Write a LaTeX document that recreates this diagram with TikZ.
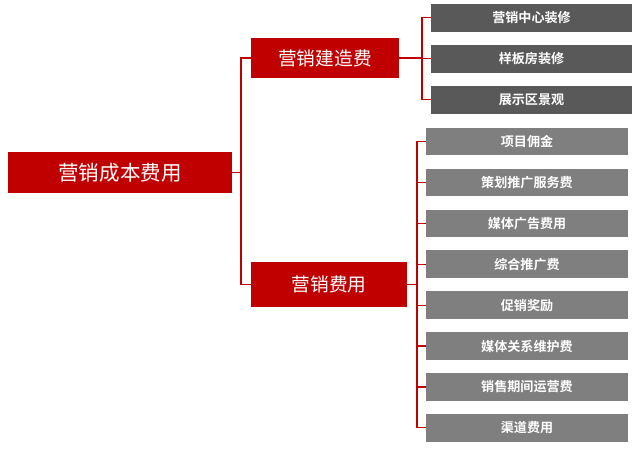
\documentclass[tikz,border=0pt]{standalone}
\usepackage{fontspec}
\setmainfont{Noto Sans CJK SC}[BoldFont={Noto Sans CJK SC Bold}]
\usetikzlibrary{positioning}
\definecolor{costred}{HTML}{C00000}
\definecolor{darkitem}{HTML}{595959}
\definecolor{greyitem}{HTML}{7F7F7F}
\def\thickness{thick}
\tikzset{
redbox/.style 2 args={fill=costred, text=white, inner sep=0pt,
	minimum width=#1, minimum height=#2},
itembox/.style={fill=#1, text=white, inner sep=0pt,
	font=\fontsize{9.3}{11}\selectfont\bfseries},
darkbox/.style={itembox=darkitem, minimum width=5.025cm, minimum height=0.7cm},
greybox/.style={itembox=greyitem, minimum width=5.05cm, minimum height=0.69cm},
link/.style={draw=costred, \thickness},
}

\begin{document}
\begin{tikzpicture}[x=0.025cm, y=-0.025cm, node distance=1.0225cm]
\useasboundingbox (0,0) rectangle (640,449);
%Place the nodes
\node[redbox={5.6cm}{1.025cm}, font=\fontsize{14.6}{17}\selectfont] (cost) at (120,172.5) {营销成本费用};
\node[redbox={3.7cm}{1cm}, font=\fontsize{13.3}{16}\selectfont] (build) at (325,58) {营销建造费};
\node[redbox={3.9cm}{1.125cm}, font=\fontsize{13.3}{16}\selectfont] (fee) at (329,284.5) {营销费用};

\node[darkbox] (b1) at (531.5,17.5) {营销中心装修};
\node[darkbox, below of=b1, node distance=1.025cm] (b2) {样板房装修};
\node[darkbox, below of=b2, node distance=1.025cm] (b3) {展示区景观};

\node[greybox] (f1) at (527,141.5) {项目佣金};
\foreach \j/\txt in {2/策划推广服务费, 3/媒体广告费用, 4/综合推广费, 5/促销奖励,
	6/媒体关系维护费, 7/销售期间运营费, 8/渠道费用} {
	\pgfmathtruncatemacro{\jn}{(\j-1)}%
	\node[greybox, below of=f\jn] (f\j) {\txt};
}

\coordinate (c0) at (241,172.5);
\coordinate (c1) at (422,58);
\coordinate (c2) at (417,284.5);

%
\draw[link] (cost) -- (c0);
\draw[link] (c0) |- (build);
\draw[link] (c0) |- (fee);

%
\draw[link] (build) -- (c1);
\foreach \j in {1, 2, 3} {
	\draw[link] (c1) |- (b\j);
}

%
\draw[link] (fee) -- (c2);
\foreach \j in {1, ..., 8} {
	\draw[link] (c2) |- (f\j);
}

\end{tikzpicture}
\end{document}
